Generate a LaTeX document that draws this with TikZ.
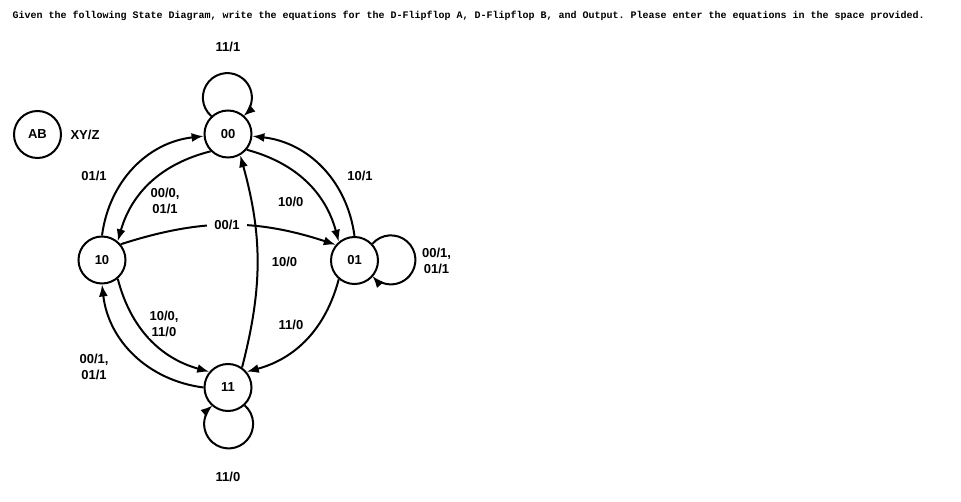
\documentclass[tikz,border=0pt]{standalone}
\usepackage{fontspec}
\setmainfont{Liberation Sans}
\setmonofont{Liberation Mono}
\usetikzlibrary{arrows.meta}
\newcommand{\lblfont}{\fontsize{13}{15.5}\selectfont\bfseries}

\begin{document}
\begin{tikzpicture}[x=1pt,y=1pt,
  >={Latex[length=12pt,width=9pt]},
  state/.style={circle,draw,line width=2pt,minimum size=47pt,inner sep=0pt,font=\lblfont},
  lbl/.style={font=\lblfont,align=center,inner sep=1pt},
  trans/.style={->,line width=2pt}]
  \useasboundingbox (0,0) rectangle (961,-502);
  \node[anchor=west,inner sep=0pt,font=\ttfamily\bfseries\fontsize{10}{12}\selectfont] (title) at (12.5,-16)
    {Given the following State Diagram, write the equations for the D-Flipflop A, D-Flipflop B, and Output. Please enter the equations in the space provided.};

  % key
  \node[state] (key) at (37.5,-134.5) {AB};
  \node[lbl] (keytxt) at (85,-135) {XY/Z};

  % states
  \node[state] (s00) at (228,-134) {00};
  \node[state] (s10) at (102,-260) {10};
  \node[state] (s01) at (354.5,-260.5) {01};
  \node[state] (s11) at (228,-387.5) {11};

  % transitions
  \draw[trans] (s10.90) to[bend left=38] (s00.185);
  \draw[trans] (s00.-135) to[bend right=30] (s10.50);
  \draw[trans] (s00.-40) to[bend left=30] (s01.130);
  \draw[trans] (s01.90) to[bend right=38] (s00.-5);
  \draw[trans] (s10.40) to[bend left=18] (s01.140);
  \draw[trans] (s11.55) to[bend right=15] (s00.-60);
  \draw[trans] (s01.-130) to[bend left=30] (s11.40);
  \draw[trans] (s10.-50) to[bend right=30] (s11.140);
  \draw[trans] (s11.180) to[bend left=38] (s10.-90);
  % self loops, drawn as circle arcs
  \draw[trans] (s00.133) arc[start angle=229,end angle=-49,radius=24.5];
  \draw[trans] (s01.43) arc[start angle=139,end angle=-139,radius=24.5];
  \draw[trans] (s11.-47) arc[start angle=49,end angle=-229,radius=24.5];

  % labels
  \node[lbl] (l11top) at (228,-47) {11/1};
  \node[lbl] (l01left) at (94,-175.7) {01/1};
  \node[lbl] (l10right) at (360,-175.7) {10/1};
  \node[lbl] (l00inner) at (165,-200.8) {00/0,\\01/1};
  \node[lbl] (l10inner) at (290.8,-201.7) {10/0};
  \node[lbl,fill=white,inner xsep=7pt] (l00mid) at (227,-225) {00/1};
  \node[lbl] (l10mid) at (284.5,-261.7) {10/0};
  \node[lbl] (l01loop) at (436.5,-261) {00/1,\\01/1};
  \node[lbl,fill=white] (l11inner) at (164,-324) {10/0,\\11/0};
  \node[lbl] (l11right) at (291,-325) {11/0};
  \node[lbl] (l10outer) at (94,-366.7) {00/1,\\01/1};
  \node[lbl] (l11loop) at (228,-477.3) {11/0};
\end{tikzpicture}
\end{document}
